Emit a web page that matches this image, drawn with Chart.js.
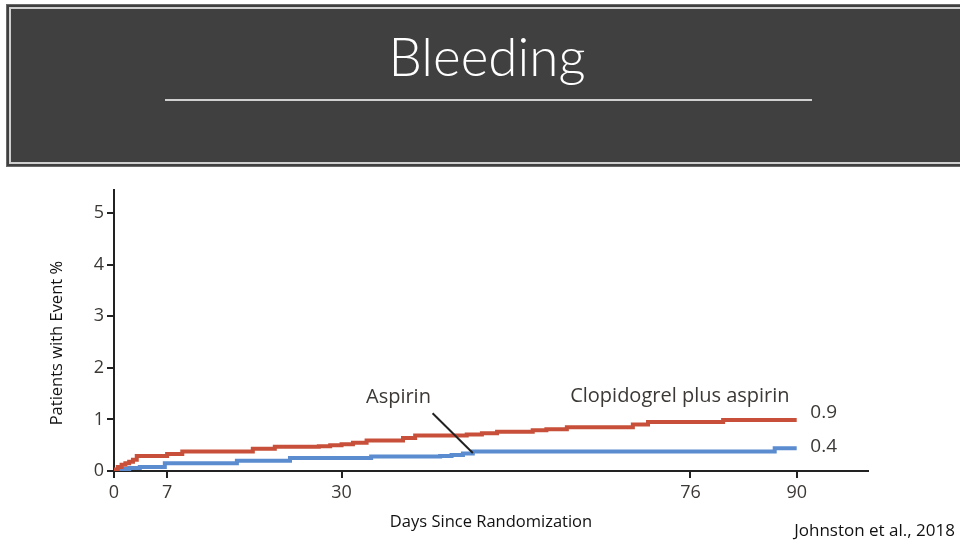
<!DOCTYPE html>
<html>
<head>
  <meta charset="utf-8" />
  <title>Bleeding</title>
  <script src="https://cdn.jsdelivr.net/npm/chart.js@4.4.0/dist/chart.umd.min.js"></script>
  <style>
    html, body {
      margin: 0;
      overflow: hidden;
    }
    body {
      width: 960px;
      height: 543px;
      background: #fff;
      position: relative;
      font-family: "Open Sans", sans-serif;
    }
    #header {
      position: absolute;
      left: 6px;
      top: 4px;
      width: 954px;
      height: 161px;
      background: #404040;
      border: 1px solid #6a6a6a;
      border-right: none;
    }
    #frame {
      position: absolute;
      left: 2px;
      top: 2px;
      right: 0;
      bottom: 2px;
      border: 2px solid #cfcfcf;
      border-right: none;
    }
    #title {
      position: absolute;
      left: 0;
      width: 974px;
      top: 25px;
      text-align: center;
      color: #fff;
      font-family: Lato, sans-serif;
      font-weight: 300;
      font-size: 53px;
      line-height: 62px;
    }
    #rule {
      position: absolute;
      left: 165px;
      top: 99px;
      width: 647px;
      height: 2px;
      background: #d0d0d0;
    }
    #cite {
      position: absolute;
      right: 5px;
      top: 518px;
      font-size: 17px;
      color: #111;
      white-space: nowrap;
    }
    #bleedChart {
      position: absolute;
      left: 0;
      top: 170px;
    }
  </style>
</head>
<body>
  <div id="header"><div id="frame"></div></div>
  <div id="title">Bleeding</div>
  <div id="rule"></div>
  <canvas id="bleedChart" width="960" height="373"></canvas>
  <div id="cite">Johnston et al., 2018</div>

  <script>
    // Kaplan-Meier style step points (days, percent)
    const clopDays = [0, 0.5, 1, 1.5, 2, 2.5, 3, 7, 9, 18.3, 21.2, 27, 28.5, 30, 31.5, 33.3, 38.1, 39.7, 46.5, 48.5, 50.5, 55.2, 57, 59.7, 68.4, 70.4, 80.3, 90];
    const clopPct  = [0.03, 0.08, 0.12, 0.15, 0.18, 0.22, 0.29, 0.33, 0.38, 0.43, 0.47, 0.48, 0.5, 0.52, 0.55, 0.59, 0.64, 0.69, 0.71, 0.73, 0.76, 0.79, 0.81, 0.85, 0.9, 0.95, 0.99, 0.99];

    const aspDays = [0, 0.5, 1, 2, 3.4, 6.7, 16.2, 23.2, 33.9, 43, 44.5, 46, 47.3, 87.1, 90];
    const aspPct  = [0, 0.02, 0.04, 0.06, 0.08, 0.15, 0.2, 0.25, 0.28, 0.29, 0.31, 0.34, 0.38, 0.44, 0.44];

    const xTickValues = [0, 7, 30, 76, 90];
    const yTickValues = [0, 1, 2, 3, 4, 5];

    const clopColor = '#c8503a';
    const aspColor  = '#5b8ccf';
    const axisColor = '#222';
    const tickText  = '#3b3835';

    function toPoints(days, vals) {
      return days.map((d, i) => ({ x: d, y: vals[i] }));
    }

    // text labels, y title and the leader line, placed through the chart scales
    const annotations = {
      id: 'annotations',
      afterDatasetsDraw(chart) {
        const { ctx, scales: { x, y } } = chart;
        ctx.save();
        ctx.fillStyle = '#3b3835';
        ctx.textBaseline = 'middle';

        ctx.font = '20px "Open Sans"';
        ctx.textAlign = 'center';
        ctx.fillText('Aspirin', x.getPixelForValue(37.5), y.getPixelForValue(1.43));
        ctx.fillText('Clopidogrel plus aspirin', x.getPixelForValue(74.6), y.getPixelForValue(1.45));

        ctx.font = '19px "Open Sans"';
        ctx.textAlign = 'left';
        ctx.fillText('0.9', x.getPixelForValue(91.8), y.getPixelForValue(1.14));
        ctx.fillText('0.4', x.getPixelForValue(91.8), y.getPixelForValue(0.47));

        // leader line from "Aspirin" to its curve
        ctx.strokeStyle = '#222';
        ctx.lineWidth = 2;
        ctx.beginPath();
        ctx.moveTo(x.getPixelForValue(42.0), y.getPixelForValue(1.12));
        ctx.lineTo(x.getPixelForValue(47.3), y.getPixelForValue(0.35));
        ctx.stroke();

        // y axis title
        ctx.fillStyle = '#111';
        ctx.font = '16.5px "Open Sans"';
        ctx.textAlign = 'center';
        ctx.translate(x.left - 57, y.getPixelForValue(2.48));
        ctx.rotate(-Math.PI / 2);
        ctx.fillText('Patients with Event %', 0, 0);
        ctx.restore();
      }
    };

    new Chart(document.getElementById('bleedChart'), {
      type: 'line',
      data: {
        datasets: [
          {
            label: 'Clopidogrel plus aspirin',
            data: toPoints(clopDays, clopPct),
            borderColor: clopColor,
            borderWidth: 4,
            pointRadius: 0,
            stepped: true,
            fill: false
          },
          {
            label: 'Aspirin',
            data: toPoints(aspDays, aspPct),
            borderColor: aspColor,
            borderWidth: 4,
            pointRadius: 0,
            stepped: true,
            fill: false
          }
        ]
      },
      options: {
        responsive: false,
        animation: false,
        layout: { padding: { left: 40, right: 92, top: 20, bottom: 0 } },
        plugins: {
          legend: { display: false },
          tooltip: { enabled: false }
        },
        scales: {
          x: {
            type: 'linear',
            min: 0,
            max: 99.4,
            afterBuildTicks: s => { s.ticks = xTickValues.map(v => ({ value: v })); },
            afterFit: s => { s.height = 72; },
            grid: { drawOnChartArea: false, drawTicks: true, tickLength: 7, color: axisColor, lineWidth: 2 },
            border: { display: true, color: axisColor, width: 2 },
            ticks: { color: tickText, font: { family: 'Open Sans', size: 18 }, padding: 4, maxRotation: 0 },
            title: {
              display: true,
              text: 'Days Since Randomization',
              color: '#111',
              font: { family: 'Open Sans', size: 16.5 },
              padding: { top: 0, bottom: 11 }
            }
          },
          y: {
            min: 0,
            max: 5.45,
            afterBuildTicks: s => { s.ticks = yTickValues.map(v => ({ value: v })); },
            afterFit: s => { s.width = 74; },
            grid: { drawOnChartArea: false, drawTicks: true, tickLength: 7, color: axisColor, lineWidth: 2 },
            border: { display: true, color: axisColor, width: 2 },
            ticks: { color: tickText, font: { family: 'Open Sans', size: 18 }, padding: 3 }
          }
        }
      },
      plugins: [annotations]
    });
  </script>
</body>
</html>
